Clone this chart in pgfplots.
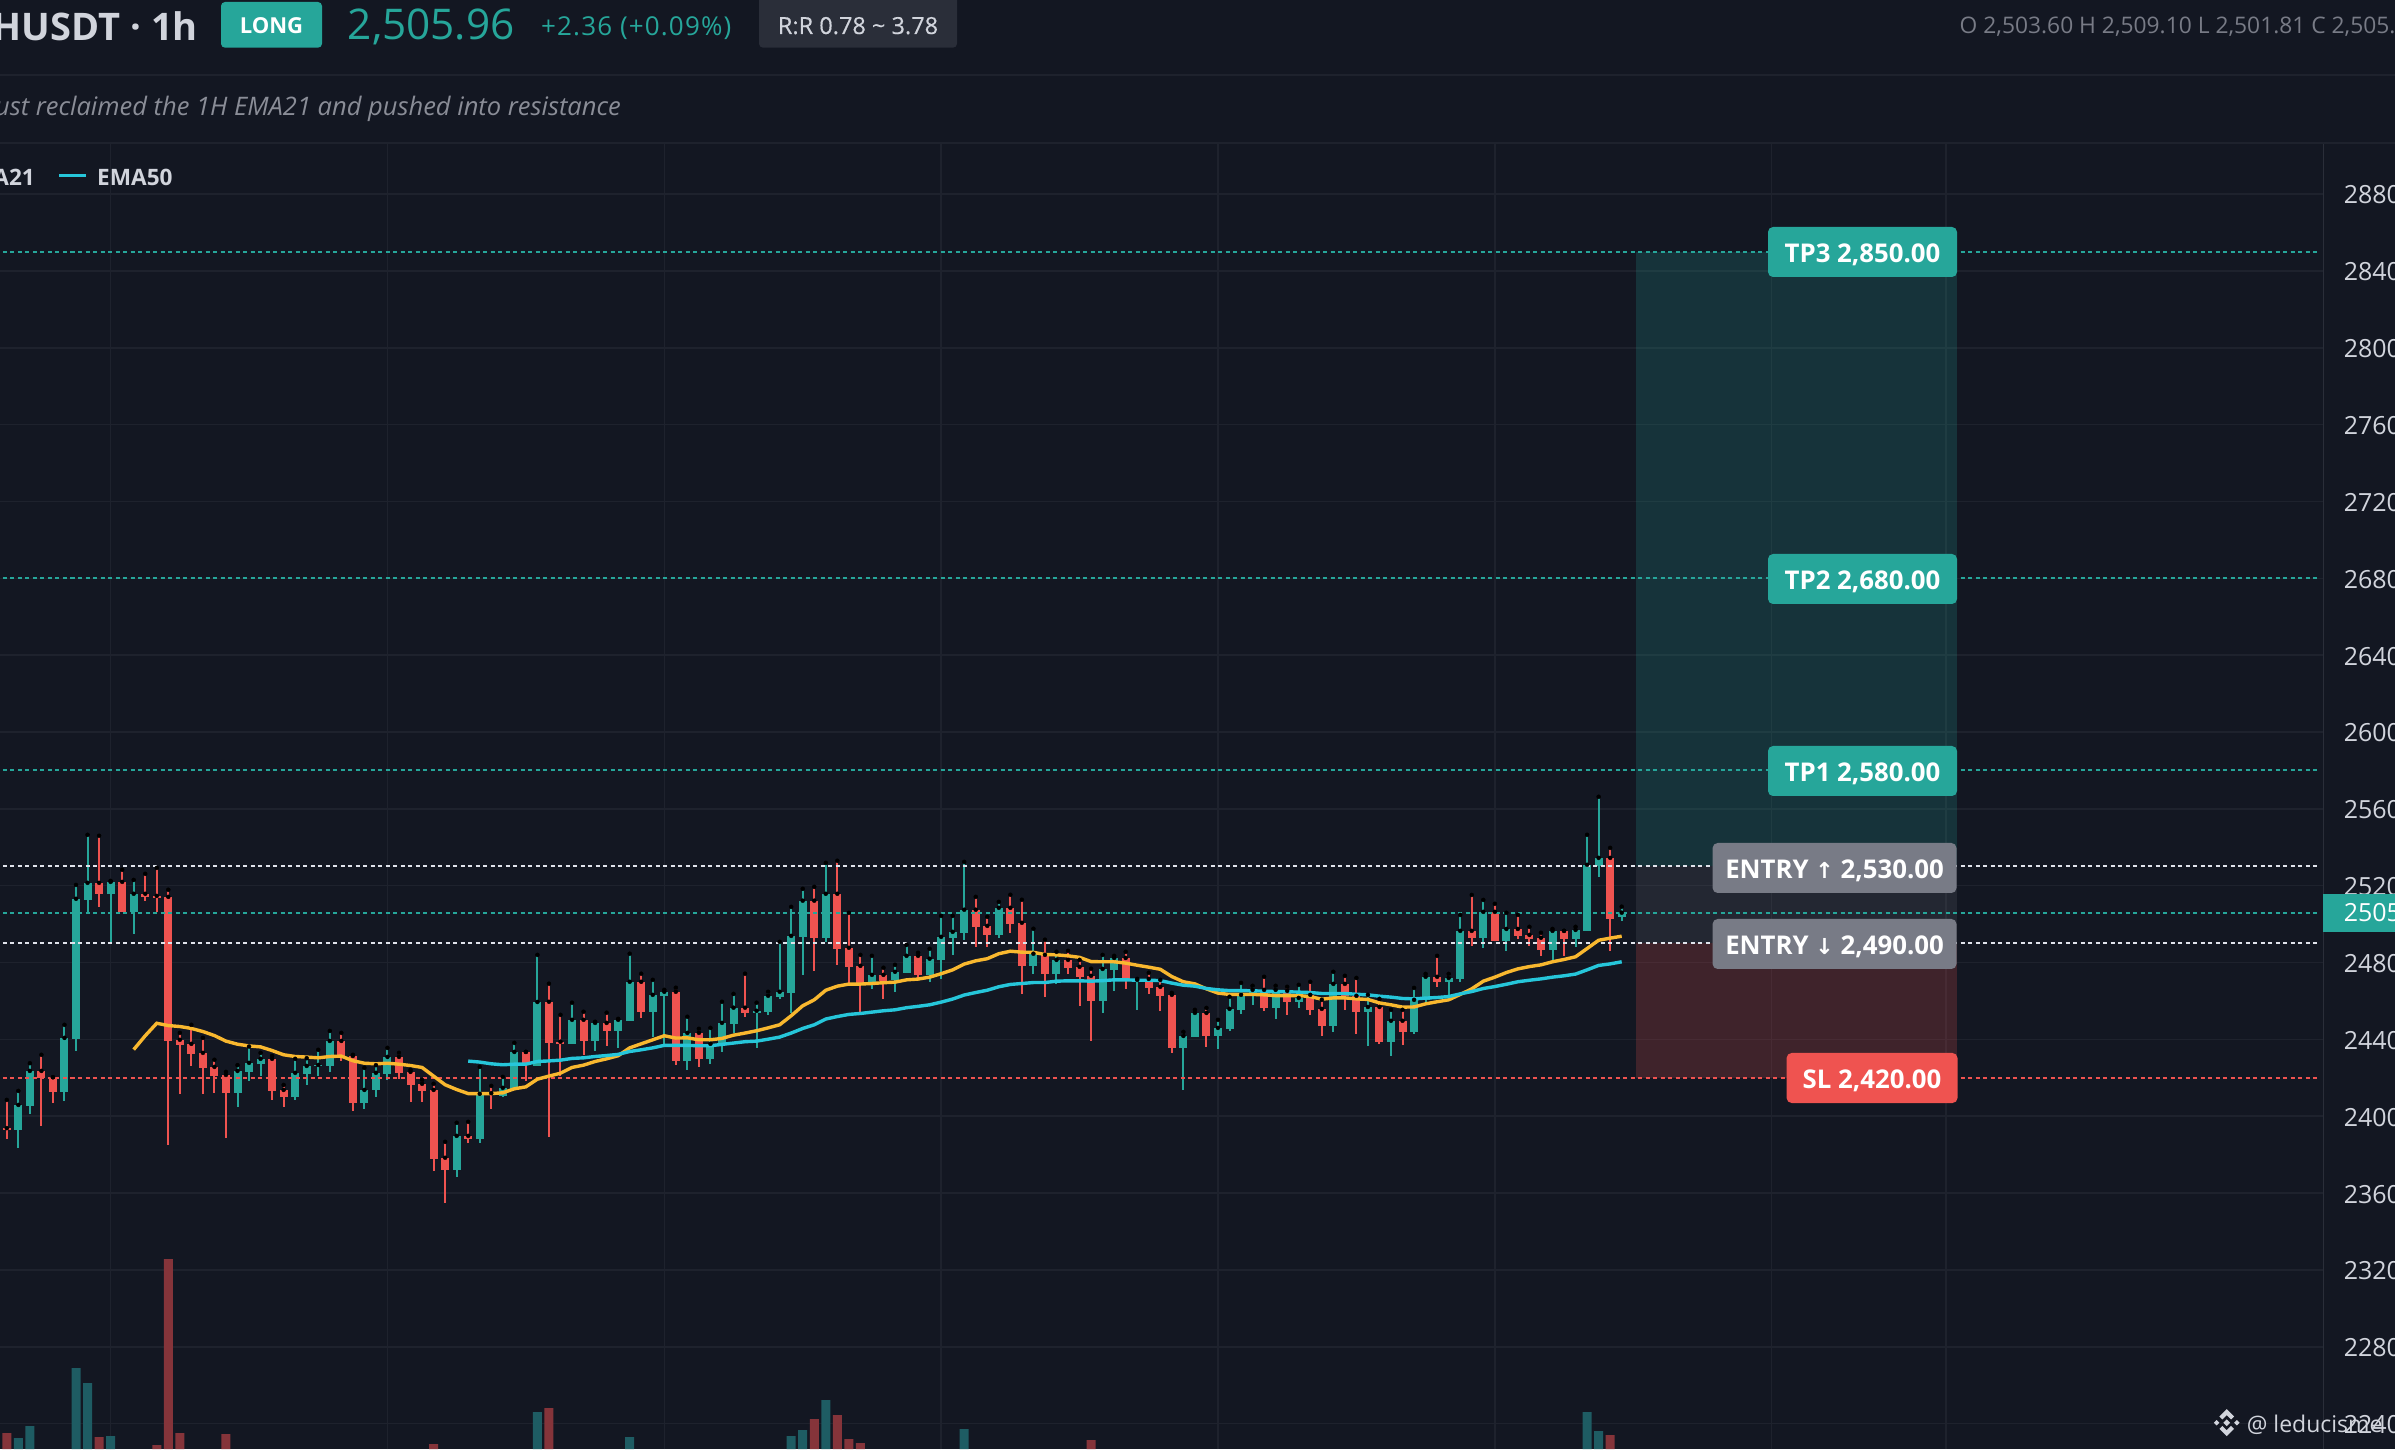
\documentclass[border=0pt]{standalone}
\usepackage{pgfplots}
\usepackage{pgfplotstable}
\usepackage{fontspec}
\pgfplotsset{compat=1.18}
\setmainfont{Open Sans}
\newfontfamily\arrowfont{DejaVu Sans}
\newfontfamily\semi[FakeBold=0.3]{Open Sans}
\newcommand\fs[1]{\fontsize{#1}{#1}\selectfont}
\definecolor{bg}{HTML}{131722}
\definecolor{gridc}{HTML}{1E222D}
\definecolor{sepc}{HTML}{2A2E39}
\definecolor{up}{HTML}{26A69A}
\definecolor{down}{HTML}{EF5350}
\definecolor{volup}{HTML}{1E5C63}
\definecolor{voldown}{HTML}{85343A}
\definecolor{txt}{HTML}{D1D4DC}
\definecolor{mute}{HTML}{787B86}
\definecolor{subt}{HTML}{8A8D97}
\definecolor{ema21}{HTML}{F9B82F}
\definecolor{ema50}{HTML}{26C6DA}
\definecolor{entry}{HTML}{E0E3EB}
\definecolor{chip}{HTML}{2A2E39}

% candles: index, high, body top, body bottom, low
\pgfplotstableread{
i high top bot low
1 2413.2 2405.9 2392.9 2383.7
2 2427.6 2423.6 2405.4 2401.2
5 2447.6 2440.8 2412.7 2408.0
6 2520.4 2513.2 2440.3 2434.0
7 2546.5 2521.5 2512.6 2506.0
9 2522.5 2522.0 2515.8 2490.3
11 2523.0 2515.8 2506.4 2494.9
20 2426.6 2423.6 2412.2 2404.9
21 2436.3 2427.8 2423.1 2418.4
22 2433.0 2429.9 2427.3 2421.0
25 2429.9 2422.6 2410.1 2408.5
26 2430.2 2426.2 2422.1 2416.3
27 2434.6 2426.7 2425.9 2421.0
28 2444.4 2439.2 2426.2 2423.1
31 2425.2 2413.7 2407.0 2403.9
32 2426.6 2422.6 2413.7 2410.1
33 2435.6 2430.9 2422.1 2418.9
39 2396.6 2389.8 2372.1 2368.5
41 2425.7 2411.7 2388.2 2386.2
43 2420.5 2414.8 2410.6 2410.1
44 2438.2 2433.5 2413.7 2413.7
46 2484.0 2459.5 2426.2 2426.2
49 2459.1 2450.2 2437.7 2437.7
51 2449.2 2448.6 2439.3 2434.1
53 2450.7 2450.2 2444.5 2435.6
54 2484.6 2470.0 2449.7 2449.7
56 2471.0 2463.2 2454.4 2441.4
57 2465.8 2464.8 2462.7 2437.2
59 2451.8 2443.4 2428.9 2424.2
61 2446.0 2437.7 2429.9 2427.3
62 2459.6 2448.6 2437.7 2433.6
63 2463.7 2456.5 2448.1 2443.3
65 2459.1 2454.9 2453.9 2435.6
66 2464.8 2462.7 2454.4 2452.8
67 2490.8 2464.8 2462.2 2461.1
68 2509.0 2493.9 2464.3 2453.9
69 2518.4 2512.2 2493.4 2473.6
71 2531.9 2515.8 2492.9 2490.8
75 2483.5 2473.6 2469.0 2466.3
77 2478.8 2475.2 2471.0 2464.8
78 2489.2 2483.5 2474.7 2474.7
80 2487.2 2482.0 2473.6 2470.0
81 2504.3 2493.4 2481.4 2471.6
82 2504.3 2496.0 2492.9 2484.0
83 2532.4 2507.5 2495.5 2491.9
86 2511.6 2508.5 2494.5 2492.9
89 2497.6 2484.6 2478.3 2474.2
91 2485.6 2481.4 2474.2 2469.0
95 2484.0 2476.7 2460.1 2453.8
96 2483.5 2482.4 2476.2 2465.3
98 2471.5 2471.0 2470.5 2455.4
102 2443.9 2441.8 2435.6 2413.7
103 2455.4 2453.8 2441.3 2441.3
105 2450.2 2446.0 2441.8 2435.1
106 2462.2 2455.9 2445.5 2444.4
107 2469.4 2463.2 2455.4 2453.3
108 2467.9 2465.8 2463.2 2458.0
110 2467.9 2465.8 2456.4 2450.7
112 2468.4 2461.6 2459.6 2456.4
115 2475.2 2468.9 2447.0 2443.9
118 2463.2 2456.9 2454.3 2436.6
120 2455.4 2449.7 2438.7 2431.4
122 2466.8 2460.6 2443.9 2442.9
123 2474.1 2472.6 2460.6 2459.6
125 2474.1 2472.0 2470.0 2460.6
126 2504.8 2496.5 2471.5 2470.0
128 2512.6 2506.4 2492.9 2487.7
130 2505.9 2497.5 2491.3 2486.1
134 2497.5 2496.5 2486.6 2480.9
136 2498.6 2497.0 2492.3 2488.2
137 2546.5 2530.9 2496.5 2496.5
138 2566.3 2534.5 2530.3 2524.6
140 2509.10 2505.96 2503.60 2501.81
}\upT
\pgfplotstableread{
i high top bot low
0 2408.5 2393.8 2392.7 2388.2
3 2432.0 2423.6 2419.8 2395.0
4 2420.3 2420.3 2412.7 2407.1
8 2546.0 2521.5 2515.8 2509.0
10 2528.3 2522.0 2506.4 2506.4
12 2526.2 2515.8 2514.2 2512.1
13 2529.3 2514.7 2513.7 2506.4
14 2517.9 2514.2 2439.2 2384.8
15 2443.4 2439.8 2437.2 2411.6
16 2447.6 2437.7 2432.5 2426.2
17 2440.8 2433.0 2425.2 2411.6
18 2429.4 2425.7 2421.0 2412.2
19 2423.1 2421.5 2412.2 2388.8
23 2431.4 2429.9 2413.2 2408.5
24 2416.3 2413.7 2410.1 2404.9
29 2443.4 2439.2 2431.4 2428.8
30 2432.0 2431.4 2407.0 2402.8
34 2433.0 2430.9 2422.6 2419.5
35 2424.2 2423.1 2416.3 2407.5
36 2418.9 2416.9 2413.2 2407.5
37 2416.9 2413.7 2377.8 2371.6
38 2386.7 2378.4 2372.1 2355.0
40 2397.1 2389.8 2388.2 2386.2
42 2415.8 2412.0 2411.1 2403.9
45 2433.5 2433.5 2427.3 2418.4
47 2469.0 2459.6 2438.2 2389.3
48 2452.8 2438.8 2437.7 2421.1
50 2454.4 2450.2 2439.3 2432.0
52 2453.9 2448.6 2444.5 2436.7
55 2474.2 2470.0 2454.4 2451.3
58 2466.9 2464.8 2428.9 2426.8
60 2445.5 2443.4 2429.9 2425.7
64 2474.2 2456.5 2453.9 2451.8
70 2519.4 2512.2 2492.9 2475.7
72 2533.0 2515.8 2487.2 2478.8
73 2505.9 2487.7 2477.8 2469.0
74 2484.0 2478.3 2469.0 2454.4
76 2477.3 2473.6 2470.5 2461.1
79 2485.1 2483.5 2473.6 2472.1
84 2514.2 2507.5 2498.6 2488.2
85 2503.8 2499.1 2494.5 2488.2
87 2515.3 2508.5 2500.2 2495.5
88 2512.7 2500.7 2478.3 2463.7
90 2491.9 2484.0 2474.2 2462.2
92 2486.1 2481.4 2477.3 2474.2
93 2481.4 2477.8 2472.6 2457.5
94 2476.8 2473.1 2460.1 2439.3
97 2485.6 2482.4 2471.0 2466.3
99 2474.7 2471.5 2466.8 2463.7
100 2471.0 2467.4 2462.7 2454.9
101 2464.2 2463.2 2435.6 2433.0
104 2456.4 2453.8 2441.8 2436.1
109 2472.6 2465.8 2456.4 2454.9
111 2467.4 2465.3 2459.6 2452.8
113 2470.0 2463.2 2455.4 2452.8
114 2460.6 2455.9 2447.0 2441.8
116 2473.1 2468.9 2462.7 2455.4
117 2472.0 2462.7 2454.3 2442.9
119 2461.1 2456.9 2438.7 2437.7
121 2455.4 2449.7 2443.9 2437.2
124 2483.5 2472.6 2470.0 2467.4
127 2515.2 2496.5 2492.9 2488.7
129 2510.6 2506.4 2491.3 2491.3
131 2504.8 2497.5 2493.9 2492.3
132 2498.6 2494.4 2492.3 2488.7
133 2495.5 2492.9 2486.6 2483.5
135 2496.5 2496.5 2492.3 2483.5
139 2539.7 2534.5 2502.7 2486.1
}\downT
% EMA21
\pgfplotstableread{
i v
11 2434.7
12 2441.9
13 2448.4
14 2447.2
15 2446.7
16 2445.7
17 2444.1
18 2442.0
19 2439.1
20 2437.5
21 2436.6
22 2436.1
23 2434.2
24 2432.0
25 2431.1
26 2430.8
27 2430.4
28 2431.1
29 2431.3
30 2428.9
31 2427.6
32 2427.3
33 2427.6
34 2427.1
35 2426.4
36 2425.4
37 2420.9
38 2416.4
39 2413.9
40 2411.8
41 2411.8
42 2411.8
43 2412.2
44 2414.3
45 2415.3
46 2419.3
47 2420.9
48 2422.4
49 2425.4
50 2426.6
51 2428.5
52 2429.9
53 2431.5
54 2435.6
55 2437.7
56 2439.8
57 2441.9
58 2440.7
59 2440.8
60 2439.8
61 2439.8
62 2440.5
63 2442.2
64 2443.3
65 2444.5
66 2446.0
67 2447.6
68 2452.3
69 2457.5
70 2460.6
71 2465.6
72 2467.7
73 2468.8
74 2468.8
75 2469.1
76 2469.5
77 2469.8
78 2471.0
79 2471.4
80 2472.4
81 2474.2
82 2476.2
83 2479.2
84 2480.9
85 2482.0
86 2484.6
87 2485.9
88 2485.4
89 2485.3
90 2484.2
91 2484.0
92 2483.5
93 2482.7
94 2480.5
95 2480.4
96 2480.4
97 2479.7
98 2478.6
99 2477.6
100 2476.5
101 2472.7
102 2470.0
103 2468.9
104 2466.3
105 2464.1
106 2463.4
107 2463.4
108 2463.4
109 2463.2
110 2462.8
111 2462.8
112 2462.8
113 2462.3
114 2460.9
115 2461.6
116 2461.6
117 2461.1
118 2460.8
119 2459.0
120 2458.0
121 2456.8
122 2456.9
123 2458.5
124 2459.6
125 2460.6
126 2463.4
127 2466.3
128 2470.3
129 2472.4
130 2474.8
131 2476.7
132 2477.9
133 2478.8
134 2480.4
135 2481.6
136 2483.0
137 2487.3
138 2491.6
139 2492.7
140 2493.7
}\emaA
% EMA50
\pgfplotstableread{
i v
40 2428.7
41 2428.2
42 2427.3
43 2426.8
44 2427.1
45 2427.1
46 2428.5
47 2428.8
48 2429.2
49 2430.1
50 2430.4
51 2431.1
52 2431.6
53 2432.2
54 2433.7
55 2434.6
56 2435.6
57 2436.9
58 2436.9
59 2436.9
60 2436.7
61 2436.7
62 2437.4
63 2438.1
64 2438.8
65 2439.1
66 2440.1
67 2441.2
68 2443.3
69 2445.7
70 2447.6
71 2450.6
72 2451.9
73 2453.0
74 2453.5
75 2454.2
76 2454.9
77 2455.4
78 2456.5
79 2457.2
80 2458.0
81 2459.4
82 2461.0
83 2463.1
84 2464.4
85 2465.6
86 2467.4
87 2468.6
88 2469.1
89 2469.6
90 2469.6
91 2470.3
92 2470.5
93 2470.5
94 2470.3
95 2470.6
96 2471.0
97 2471.0
98 2470.8
99 2470.8
100 2470.6
101 2469.3
102 2468.2
103 2467.7
104 2466.5
105 2465.8
106 2465.4
107 2465.4
108 2465.3
109 2465.1
110 2464.9
111 2464.8
112 2464.6
113 2464.4
114 2463.9
115 2463.9
116 2463.9
117 2463.5
118 2463.2
119 2462.5
120 2462.0
121 2461.3
122 2461.1
123 2461.5
124 2461.8
125 2462.3
126 2463.7
127 2464.9
128 2466.5
129 2467.5
130 2468.7
131 2470.0
132 2470.8
133 2471.5
134 2472.4
135 2473.1
136 2474.0
137 2476.2
138 2478.5
139 2479.3
140 2480.4
}\emaB
% volume (visible height in the chart's own scale)
\pgfplotstableread{
i v
1 11
2 23
6 81
7 66
9 13
46 37
54 12
68 13
69 19
71 49
83 20
137 37
138 18
}\volUp
\pgfplotstableread{
i v
0 16
8 12
13 4
14 190
15 16
19 15
37 5
47 41
70 30
72 34
73 10
74 6
94 9
139 14
}\volDown

\pgfplotsset{
  base/.style={
    at={(0,0)}, anchor=south west, scale only axis,
    width=2323.6pt, height=1306.3pt,
    xmin=-0.59, xmax=200.85,
    axis line style={draw=none},
    major tick length=0pt,
    xticklabels={},
  },
  wick/.style={only marks, no markers, forget plot,
    error bars/.cd, y dir=minus, y explicit, error mark=none,
    error bar style={line width=2pt,color=#1}},
  body/.style={only marks, no markers, forget plot,
    error bars/.cd, y dir=minus, y explicit, error mark=none,
    error bar style={line width=8pt,color=#1}},
  level/.style={forget plot, no markers, color=#1, line width=2pt, dash pattern=on 4pt off 3.5pt},
}
\newcommand\PX[2]{({#1pt},{(1449-(#2))*1pt})}
% x0 y0 x1 y1 colour text centre-x
\newcommand\lvltag[7]{%
  \fill[#5,rounded corners=5pt] \PX{#1}{#2} rectangle \PX{#3}{#4};
  \node[anchor=base,inner sep=0pt,text=white,font=\fs{25.8}\bfseries] at \PX{#7}{#4-14} {#6};
}

\begin{document}
\begin{tikzpicture}
\path[use as bounding box] (0,0) rectangle (2395pt,1449pt);
\clip (0,0) rectangle (2395pt,1449pt);
\fill[bg] (0,0) rectangle (2395pt,1449pt);

% grid and price scale
\begin{axis}[base,
  ymin=2226.8, ymax=2906.7,
  xtick={9,33,57,81,105,129,153,168.1},
  ytick={2240,2280,...,2880},
  grid=major, grid style={color=gridc,line width=1.5pt},
  yticklabel pos=right,
  /pgf/number format/1000 sep={},
  /pgf/number format/assume math mode=true,
  yticklabel style={anchor=west,inner sep=0pt,xshift=20pt,yshift=-1pt,font=\fs{25},text=txt},
]
\end{axis}

% volume
\begin{axis}[base, ymin=0, ymax=1306.3, xtick=\empty, ytick=\empty]
\addplot[ybar, bar width=9pt, bar shift=0pt, fill=volup, draw=none, forget plot] table[x=i,y=v] {\volUp};
\addplot[ybar, bar width=9pt, bar shift=0pt, fill=voldown, draw=none, forget plot] table[x=i,y=v] {\volDown};
\end{axis}

% price panel
\begin{axis}[base, ymin=2226.8, ymax=2906.7, xtick=\empty, ytick=\empty]
% zones
\addplot[fill=up, fill opacity=0.2, draw=none, forget plot] coordinates {(141.2,2530) (169.07,2530) (169.07,2850) (141.2,2850)} --cycle;
\addplot[fill=mute, fill opacity=0.16, draw=none, forget plot] coordinates {(141.2,2490) (169.07,2490) (169.07,2530) (141.2,2530)} --cycle;
\addplot[fill=down, fill opacity=0.2, draw=none, forget plot] coordinates {(141.2,2420) (169.07,2420) (169.07,2490) (141.2,2490)} --cycle;
% candles
\addplot[wick=up] table[x=i,y=high,y error minus expr=\thisrow{high}-\thisrow{low}] {\upT};
\addplot[body=up] table[x=i,y=top,y error minus expr=\thisrow{top}-\thisrow{bot}] {\upT};
\addplot[wick=down] table[x=i,y=high,y error minus expr=\thisrow{high}-\thisrow{low}] {\downT};
\addplot[body=down] table[x=i,y=top,y error minus expr=\thisrow{top}-\thisrow{bot}] {\downT};
% levels
\addplot[level=up] coordinates {(-0.33,2850) (200.5,2850)};
\addplot[level=up] coordinates {(-0.33,2680) (200.5,2680)};
\addplot[level=up] coordinates {(-0.33,2580) (200.5,2580)};
\addplot[level=entry] coordinates {(-0.33,2530) (200.5,2530)};
\addplot[level=up] coordinates {(-0.33,2505.96) (200.5,2505.96)};
\addplot[level=entry] coordinates {(-0.33,2490) (200.5,2490)};
\addplot[level=down] coordinates {(-0.33,2420) (200.5,2420)};
% EMAs
\addplot[ema21, line width=3.4pt, no markers, forget plot] table[x=i,y=v] {\emaA};
\addplot[ema50, line width=3.4pt, no markers, forget plot] table[x=i,y=v] {\emaB};
\end{axis}

% frame of the panels
\draw[sepc,line width=1.5pt] \PX{2323.6}{143} -- \PX{2323.6}{1449};
\draw[gridc,line width=2pt] \PX{0}{75} -- \PX{2395}{75};
\draw[gridc,line width=2pt] \PX{0}{143} -- \PX{2395}{143};

% header
\node[anchor=base east,inner sep=0pt,text=txt,font=\fs{38}\bfseries] at \PX{198}{41} {ETHUSDT · 1h};
\fill[up,rounded corners=4pt] \PX{221}{2} rectangle \PX{322}{47.7};
\node[anchor=base,inner sep=0pt,text=white,font=\fs{22}\bfseries] at \PX{271.5}{33.3} {LONG};
\node[anchor=base west,inner sep=0pt,text=up,font=\fs{42.3}] at \PX{347.6}{40} {2,505.96};
\node[anchor=base west,inner sep=0pt,text=up,font=\fs{26}\addfontfeature{LetterSpace=4.4}] at \PX{541}{36} {+2.36 (+0.09\%)};
\fill[chip,rounded corners=4pt] \PX{759}{-8} rectangle \PX{957}{47.7};
\node[anchor=base,inner sep=0pt,text=txt,font=\semi\fs{23.5}] at \PX{858}{34} {R:R 0.78 \textasciitilde{} 3.78};
\node[anchor=base west,inner sep=0pt,text=mute,font=\fs{22.8}] at \PX{1959.5}{34} {O 2,503.60 H 2,509.10 L 2,501.81 C 2,505.96};
\node[anchor=base east,inner sep=0pt,text=subt,font=\fs{25.5}\itshape] at \PX{621}{116} {Just reclaimed the 1H EMA21 and pushed into resistance};

% legend
\node[anchor=base east,inner sep=0pt,text=txt,font=\fs{22.6}\bfseries] at \PX{35}{186} {EMA21};
\draw[ema50,line width=3.6pt] \PX{59}{175.7} -- \PX{86}{175.7};
\node[anchor=base west,inner sep=0pt,text=txt,font=\fs{22.6}\bfseries] at \PX{97}{186} {EMA50};

% level tags
\lvltag{1768}{227}{1957}{277}{up}{TP3 2,850.00}{1862.5}
\lvltag{1768}{554}{1957}{604}{up}{TP2 2,680.00}{1862.5}
\lvltag{1768}{746}{1957}{796}{up}{TP1 2,580.00}{1862.5}
\lvltag{1712.6}{843}{1956.5}{893}{mute}{ENTRY {\arrowfont\fs{22}↑} 2,530.00}{1834.5}
\lvltag{1712.6}{919}{1956.5}{969}{mute}{ENTRY {\arrowfont\fs{22}↓} 2,490.00}{1834.5}
\lvltag{1786.6}{1053}{1957.5}{1103}{down}{SL 2,420.00}{1872}

% last price tag
\fill[up] \PX{2323}{894} rectangle \PX{2395}{932};
\node[anchor=base west,inner sep=0pt,text=white,font=\fs{25}] at \PX{2343.6}{921.5} {2505.96};

% watermark
\begin{scope}[shift={(2226.7pt,26.3pt)},x=13.5pt,y=13.5pt,txt]
\fill (0,.25) -- (.25,0) -- (0,-.25) -- (-.25,0) -- cycle;
\fill (-.75,.2) -- (-.55,0) -- (-.75,-.2) -- (-.95,0) -- cycle;
\fill (.75,.2) -- (.95,0) -- (.75,-.2) -- (.55,0) -- cycle;
\fill (0,1) -- (.54,.46) -- (.32,.24) -- (0,.56) -- (-.32,.24) -- (-.54,.46) -- cycle;
\fill (0,-1) -- (.54,-.46) -- (.32,-.24) -- (0,-.56) -- (-.32,-.24) -- (-.54,-.46) -- cycle;
\end{scope}
\node[anchor=base west,inner sep=0pt,text=txt,font=\fs{23}] at \PX{2246.6}{1432} {@ leducisme};
\end{tikzpicture}
\end{document}
